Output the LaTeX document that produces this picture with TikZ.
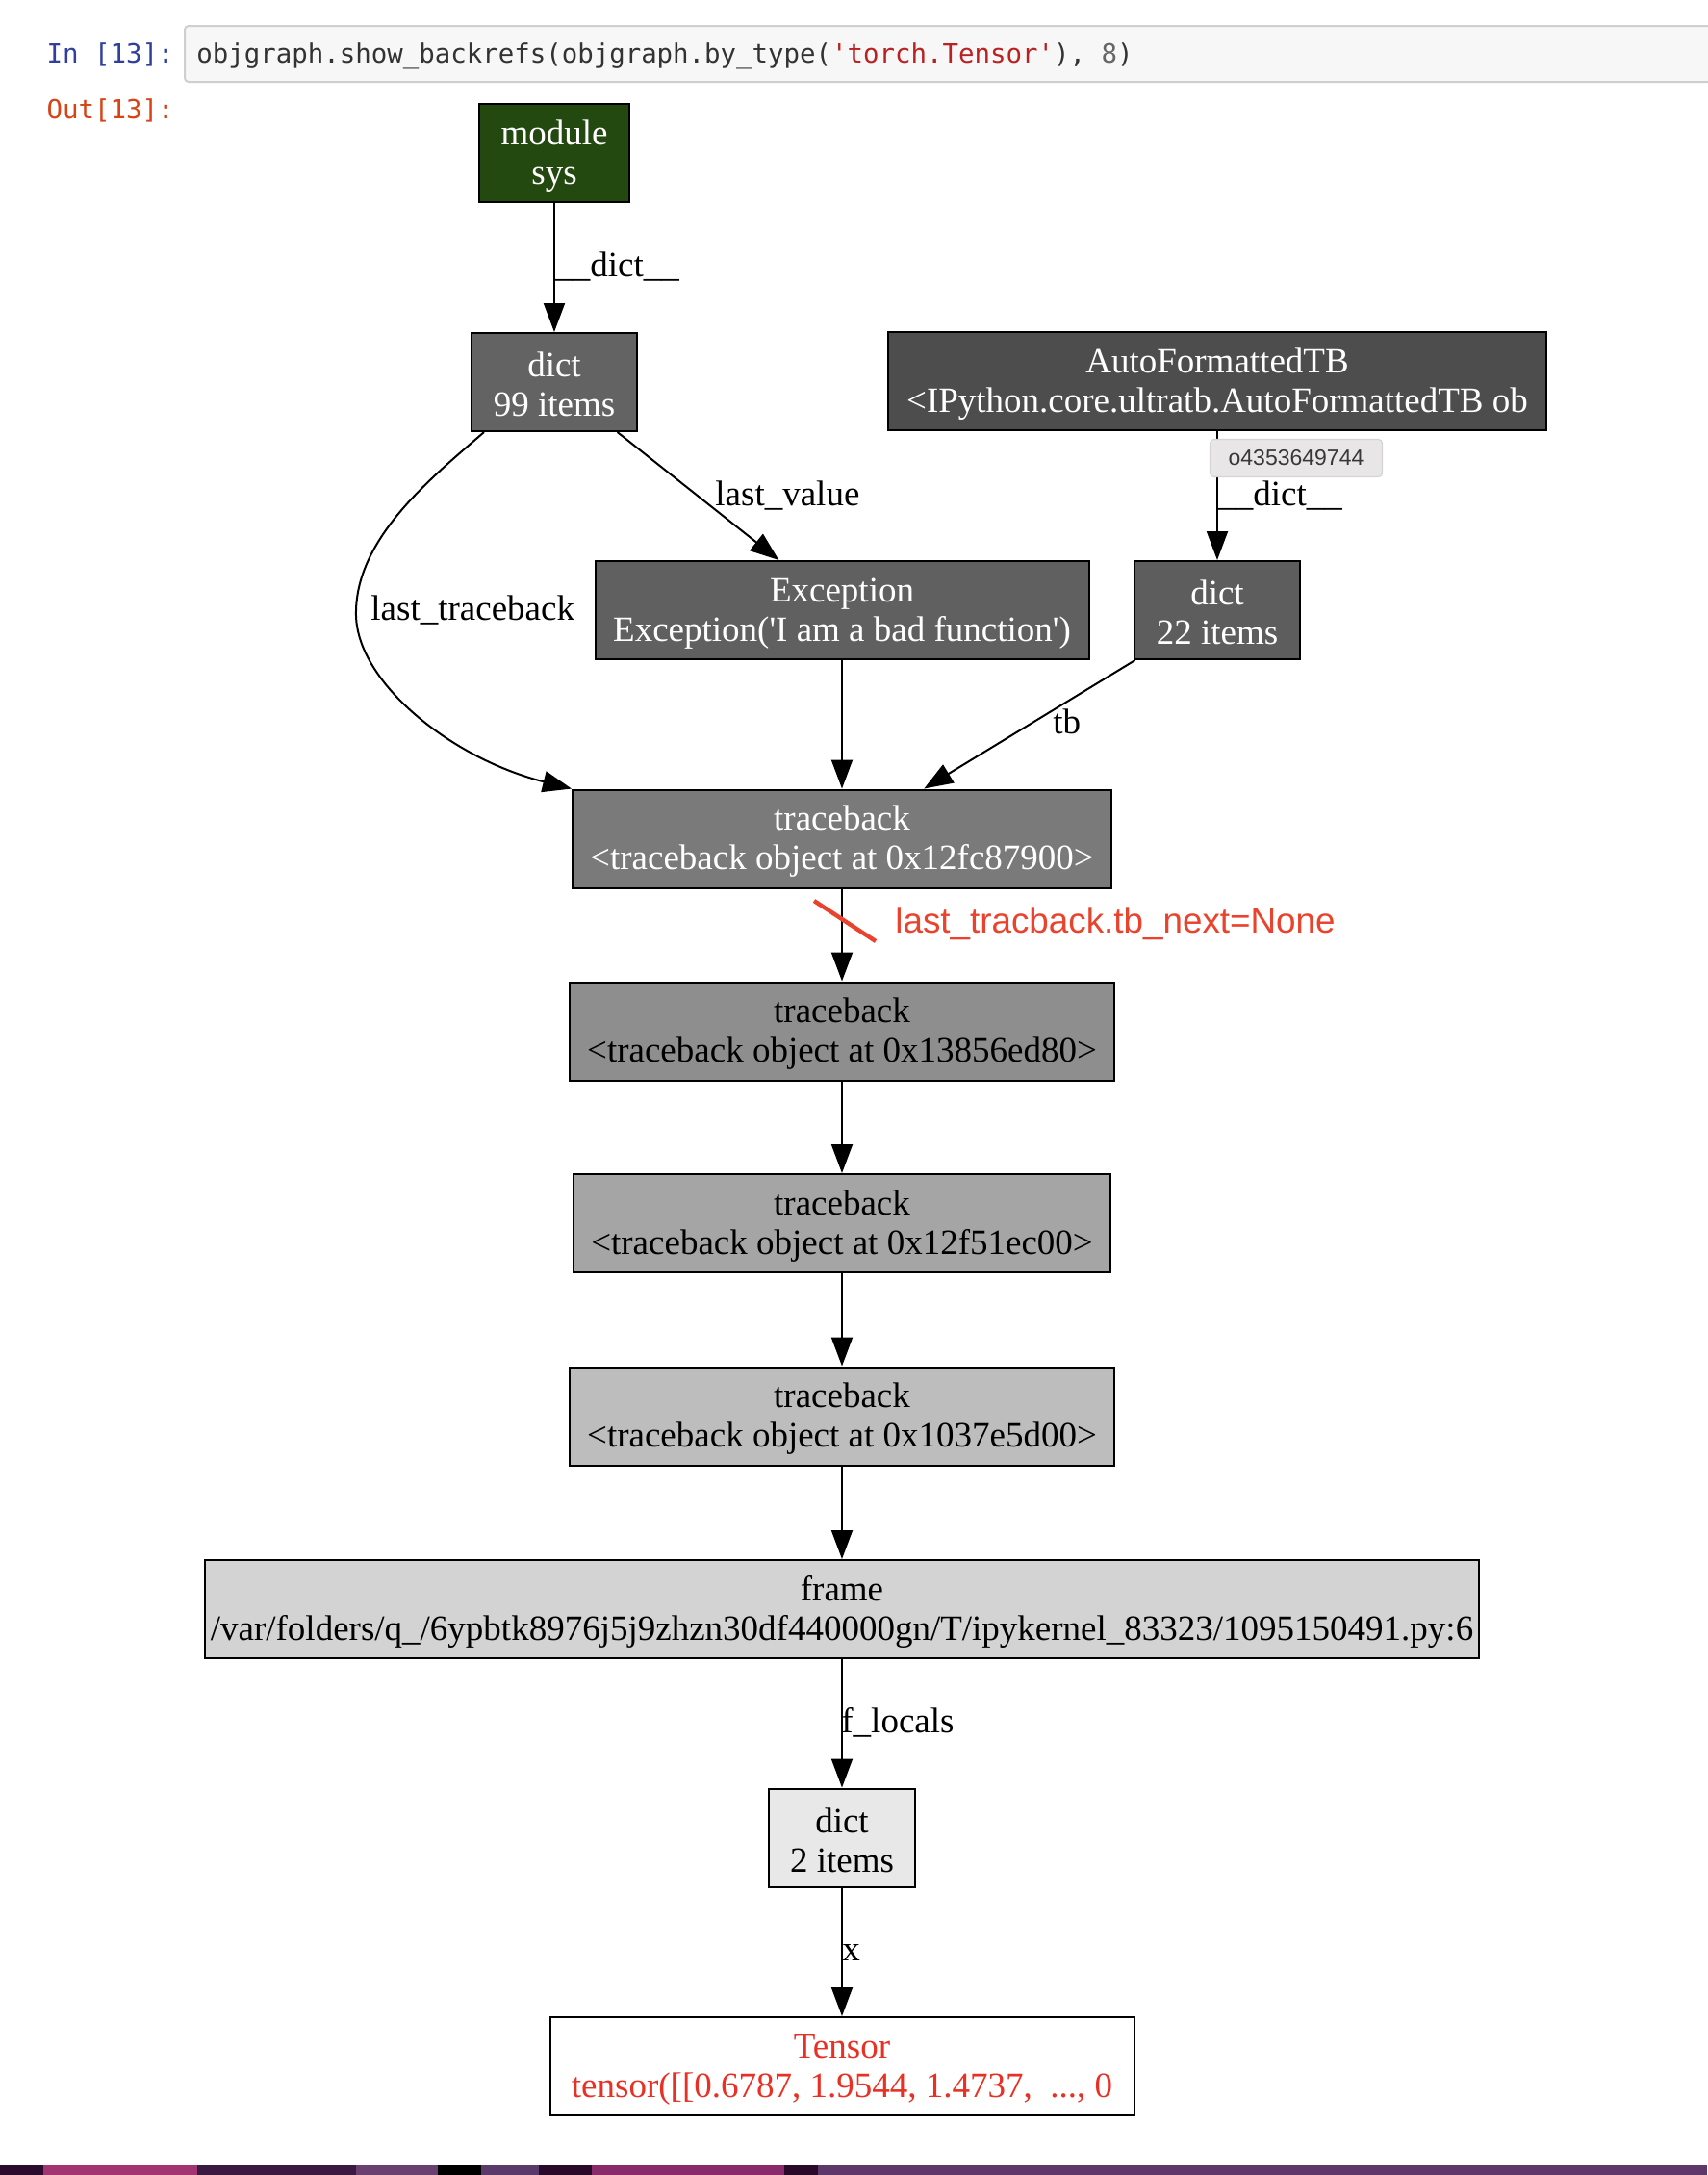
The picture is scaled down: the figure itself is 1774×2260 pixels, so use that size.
\documentclass[tikz,border=0pt]{standalone}
\usepackage{fontspec}
\setmainfont{Liberation Serif}
\newfontfamily\sansf{Liberation Sans}
\newfontfamily\monof{DejaVu Sans Mono}
\usetikzlibrary{arrows.meta}
\newcommand\gvfont{\fontsize{18.5pt}{20.5pt}\selectfont}
\newcommand\cellfont{\monof\fontsize{13.7pt}{16pt}\selectfont}
\definecolor{cmod}{RGB}{35,73,17}
\definecolor{cdnn}{RGB}{99,99,99}
\definecolor{caft}{RGB}{77,77,77}
\definecolor{cexc}{RGB}{96,96,96}
\definecolor{cdtt}{RGB}{93,93,93}
\definecolor{ctba}{RGB}{122,122,122}
\definecolor{ctbb}{RGB}{142,142,142}
\definecolor{ctbc}{RGB}{165,165,165}
\definecolor{ctbd}{RGB}{189,189,189}
\definecolor{cfrm}{RGB}{211,211,211}
\definecolor{cdtw}{RGB}{232,232,232}
\definecolor{cred}{RGB}{232,48,36}
\definecolor{cnote}{RGB}{234,67,45}
\definecolor{cin}{RGB}{48,63,159}
\definecolor{cout}{RGB}{216,67,21}
\definecolor{cstr}{RGB}{186,33,33}
\definecolor{ccode}{RGB}{51,51,51}
\definecolor{cnum}{RGB}{102,102,102}
\definecolor{ccellbg}{RGB}{247,247,247}
\definecolor{ccellbd}{RGB}{207,207,207}
\definecolor{ctipbg}{RGB}{232,230,230}
\definecolor{ctipbd}{RGB}{214,212,212}
\definecolor{wpa}{RGB}{43,11,46}
\definecolor{wpb}{RGB}{163,52,114}
\definecolor{wpc}{RGB}{58,26,64}
\definecolor{wpd}{RGB}{106,64,112}
\definecolor{wpe}{RGB}{90,58,106}
\definecolor{wpf}{RGB}{42,10,42}
\definecolor{wpg}{RGB}{138,42,106}
\definecolor{wph}{RGB}{94,56,104}
\begin{document}
\begin{tikzpicture}[x=0.5pt,y=-0.5pt,
  obj/.style={draw=black, line width=1pt, rectangle, inner xsep=1pt, inner ysep=0pt,
              minimum height=51pt, align=center, font=\gvfont,
              execute at begin node={\rule{0pt}{36pt}}},
  edge/.style={draw=black, line width=1pt, -{Triangle[length=15pt,width=11pt]}},
  elabel/.style={anchor=base west, inner sep=0pt, font=\gvfont},
  prompt/.style={anchor=base east, inner sep=0pt, font=\cellfont}]
\useasboundingbox (0,0) rectangle (1774,2260);
\fill[white] (0,0) rectangle (1774,2260);

% notebook cell
\fill[ccellbg, rounded corners=2pt] (192,27) rectangle (1790,85);
\draw[ccellbd, line width=1pt, rounded corners=2pt] (1790,27) -- (192,27) -- (192,85) -- (1790,85);
\node[prompt, text=cin] (inp) at (181,65) {In [13]:};
\node[anchor=base west, inner sep=0pt, font=\cellfont, text=ccode] (code) at (204,65)
  {objgraph.show\_backrefs(objgraph.by\_type(\textcolor{cstr}{\textquotesingle torch.Tensor\textquotesingle}), \textcolor{cnum}{8})};
\node[prompt, text=cout] (outp) at (181,123) {Out[13]:};

% nodes
\node[obj, fill=cmod, text=white, minimum width=78pt] (mod) at (576,159) {module\\sys};
\node[obj, fill=cdnn, text=white, minimum width=86pt] (d99) at (576,397) {dict\\99 items};
\node[obj, fill=caft, text=white, minimum width=342pt] (aft) at (1265,396)
  {AutoFormattedTB\\<IPython.core.ultratb.AutoFormattedTB ob};
\node[obj, fill=cexc, text=white, minimum width=256.5pt] (exc) at (875,634)
  {Exception\\Exception(\textquotesingle I am a bad function\textquotesingle)};
\node[obj, fill=cdtt, text=white, minimum width=86pt] (d22) at (1265,634) {dict\\22 items};
\node[obj, fill=ctba, text=white, minimum width=280pt] (tb1) at (875,871.5)
  {traceback\\<traceback object at 0x12fc87900>};
\node[obj, fill=ctbb, minimum width=283pt] (tb2) at (875,1071.5)
  {traceback\\<traceback object at 0x13856ed80>};
\node[obj, fill=ctbc, minimum width=279pt] (tb3) at (875,1271)
  {traceback\\<traceback object at 0x12f51ec00>};
\node[obj, fill=ctbd, minimum width=283pt] (tb4) at (875,1471.5)
  {traceback\\<traceback object at 0x1037e5d00>};
\node[obj, fill=cfrm, minimum width=662pt] (frm) at (875,1672)
  {frame\\/var/folders/q\_/6ypbtk8976j5j9zhzn30df440000gn/T/ipykernel\_83323/1095150491.py:6};
\node[obj, fill=cdtw, minimum width=76pt] (d2) at (875,1909.5) {dict\\2 items};
\node[obj, fill=white, text=cred, minimum width=303.5pt] (ten) at (875,2147)
  {Tensor\\tensor([[0.6787, 1.9544, 1.4737,\ \ ..., 0};

% edges
\coordinate (ltc) at (370,640);
\draw[edge] (mod) -- (d99);
\draw[edge] (d99) -- (exc);
\draw[edge] ([xshift=7pt]d99.south west) .. controls +(-54,47) and +(-2,-80) .. (ltc)
  .. controls +(2,70) and +(-124,-31) .. (tb1.north west);
\draw[edge] (aft) -- (d22);
\draw[edge] (d22) -- (tb1);
\draw[edge] (exc) -- (tb1);
\draw[edge] (tb1) -- (tb2);
\draw[edge] (tb2) -- (tb3);
\draw[edge] (tb3) -- (tb4);
\draw[edge] (tb4) -- (frm);
\draw[edge] (frm) -- (d2);
\draw[edge] (d2) -- (ten);

% edge labels
\node[elabel] (l1) at (576,287) {\_\_dict\_\_};
\node[elabel] (l2) at (743,525) {last\_value};
\node[elabel] (l3) at (385,644) {last\_traceback};
\node[elabel] (l4) at (1265,525) {\_\_dict\_\_};
\node[elabel] (l5) at (1094,762) {tb};
\node[elabel] (l6) at (874,1800) {f\_locals};
\node[elabel] (l7) at (875,2037) {x};

% tooltip
\node[fill=ctipbg, draw=ctipbd, line width=0.6pt, rounded corners=2pt, minimum width=89.5pt,
      minimum height=19.5pt, inner sep=0pt, text=black!78,
      font=\sansf\fontsize{11.5pt}{13pt}\selectfont] (tip) at (1347,476) {o4353649744};

% annotation
\coordinate (s1) at (846,936);
\coordinate (s2) at (910,978);
\draw[cnote, line width=2.2pt] (s1) -- (s2);
\node[anchor=base west, inner sep=0pt, text=cnote, font=\sansf\fontsize{18.4pt}{20pt}\selectfont]
  (note) at (930,969) {last\_tracback.tb\_next=None};

% bottom desktop strip
\fill[wpa] (0,2250) rectangle (45,2260);
\fill[wpb] (45,2250) rectangle (205,2260);
\fill[wpc] (205,2250) rectangle (370,2260);
\fill[wpd] (370,2250) rectangle (455,2260);
\fill[black] (455,2250) rectangle (500,2260);
\fill[wpe] (500,2250) rectangle (560,2260);
\fill[wpf] (560,2250) rectangle (615,2260);
\fill[wpg] (615,2250) rectangle (815,2260);
\fill[wpf] (815,2250) rectangle (850,2260);
\fill[wph] (850,2250) rectangle (1774,2260);
\end{tikzpicture}
\end{document}
